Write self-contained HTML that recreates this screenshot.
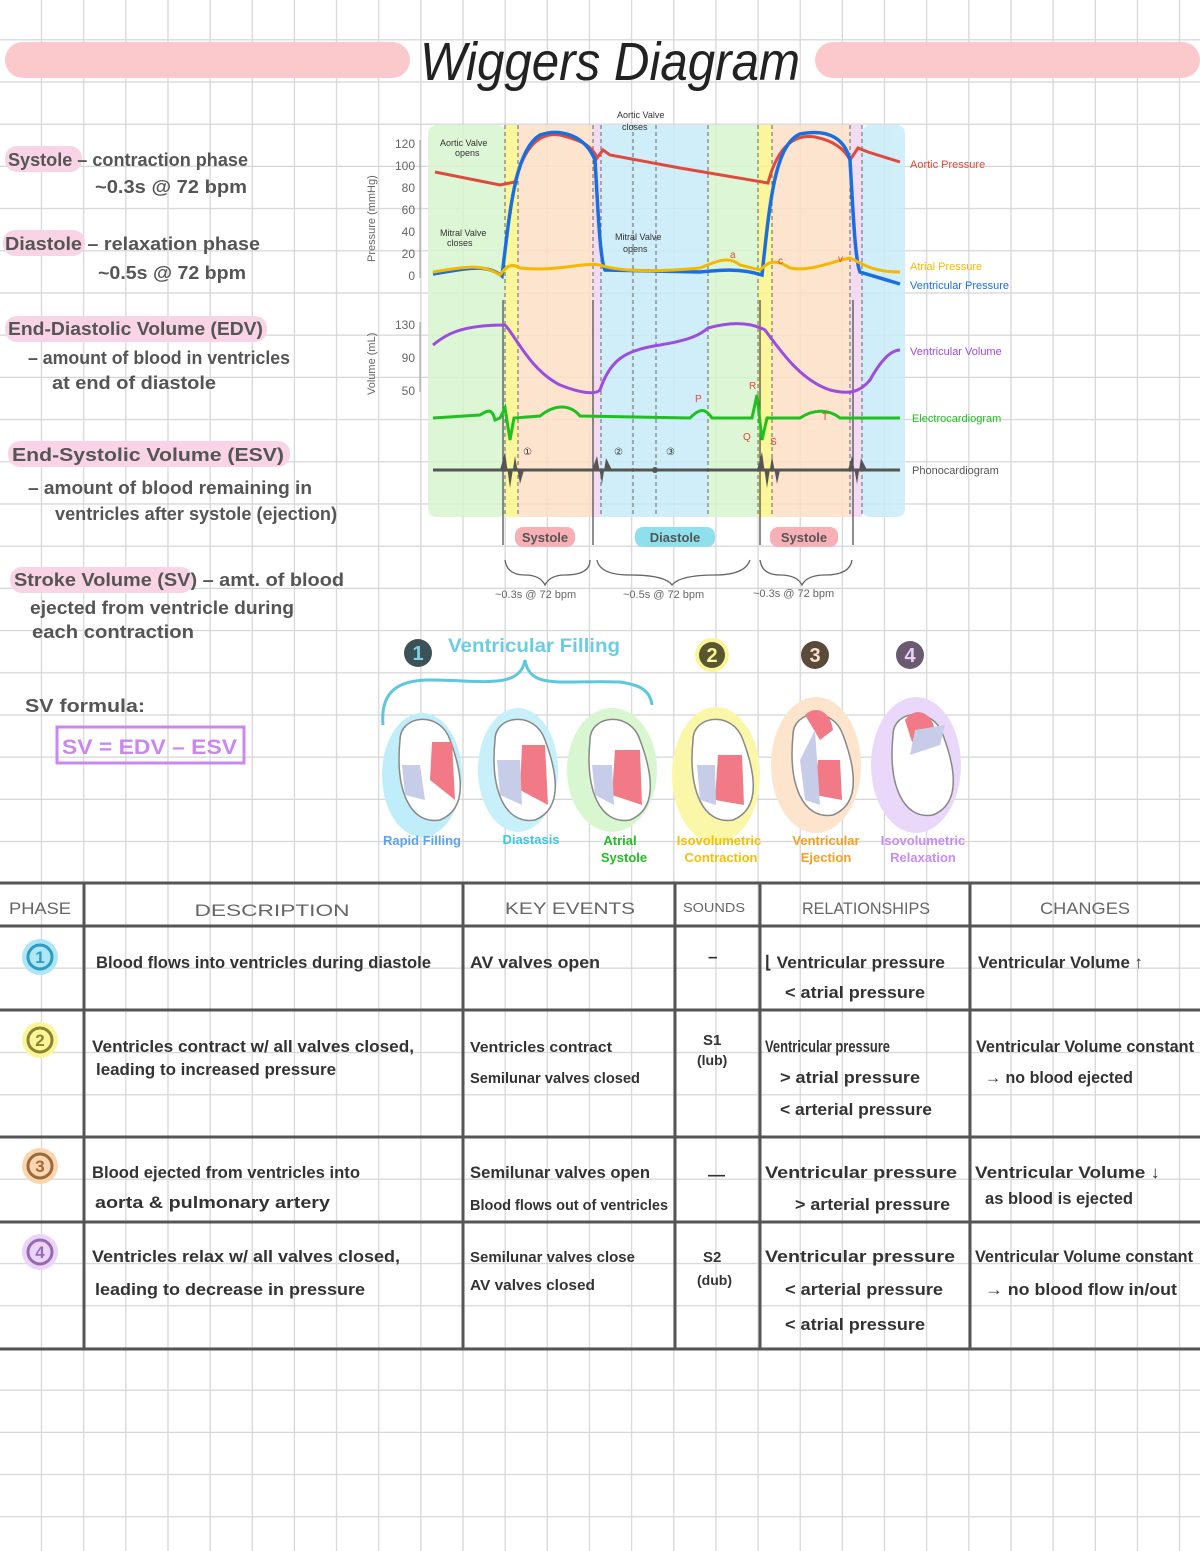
<!DOCTYPE html>
<html><head><meta charset="utf-8"><style>
html,body{margin:0;padding:0;background:#fff;}
svg{display:block}
text{font-family:"Liberation Sans",sans-serif;}
</style></head><body>
<svg width="1200" height="1551" viewBox="0 0 1200 1551" xmlns="http://www.w3.org/2000/svg">
<defs>
<pattern id="grid" x="0" y="-1.8" width="42.15" height="42.2" patternUnits="userSpaceOnUse">
<path d="M42.15 0V42.2M0 42.2H42.15" stroke="#d6d6d8" stroke-width="2.5" fill="none"/>
</pattern>
</defs>
<rect width="1200" height="1551" fill="#fff"/>
<rect width="1200" height="1551" fill="url(#grid)"/>

<!-- title -->
<rect x="5" y="42" width="405" height="36" rx="18" fill="#fbc9cb"/>
<rect x="815" y="42" width="385" height="36" rx="18" fill="#fbc9cb"/>
<text x="610" y="80" text-anchor="middle" font-family="Liberation Serif,serif" font-style="italic" font-size="54" fill="#222" textLength="380" lengthAdjust="spacingAndGlyphs">Wiggers Diagram</text>

<!-- left notes -->
<g fill="#555" font-weight="bold" font-size="18">
<rect x="5" y="146" width="77" height="26" rx="12" fill="#f9d4e6"/>
<text x="8" y="166" textLength="240" lengthAdjust="spacingAndGlyphs">Systole – contraction phase</text>
<text x="95" y="193" textLength="152" lengthAdjust="spacingAndGlyphs">~0.3s @ 72 bpm</text>
<rect x="3" y="230" width="82" height="26" rx="12" fill="#f9d4e6"/>
<text x="5" y="250" textLength="255" lengthAdjust="spacingAndGlyphs">Diastole – relaxation phase</text>
<text x="98" y="279" textLength="148" lengthAdjust="spacingAndGlyphs">~0.5s @ 72 bpm</text>
<rect x="5" y="316" width="262" height="26" rx="12" fill="#f9d4e6"/>
<text x="8" y="335" textLength="255" lengthAdjust="spacingAndGlyphs">End-Diastolic Volume (EDV)</text>
<text x="28" y="364" textLength="262" lengthAdjust="spacingAndGlyphs">– amount of blood in ventricles</text>
<text x="52" y="389" textLength="164" lengthAdjust="spacingAndGlyphs">at end of diastole</text>
<rect x="8" y="441" width="282" height="26" rx="12" fill="#f9d4e6"/>
<text x="12" y="461" textLength="272" lengthAdjust="spacingAndGlyphs">End-Systolic Volume (ESV)</text>
<text x="28" y="494" textLength="284" lengthAdjust="spacingAndGlyphs">– amount of blood remaining in</text>
<text x="55" y="520" textLength="282" lengthAdjust="spacingAndGlyphs">ventricles after systole (ejection)</text>
<rect x="10" y="567" width="183" height="26" rx="12" fill="#f9d4e6"/>
<text x="14" y="586" textLength="330" lengthAdjust="spacingAndGlyphs">Stroke Volume (SV) – amt. of blood</text>
<text x="30" y="614" textLength="264" lengthAdjust="spacingAndGlyphs">ejected from ventricle during</text>
<text x="32" y="638" textLength="162" lengthAdjust="spacingAndGlyphs">each contraction</text>
<text x="25" y="712" textLength="120" lengthAdjust="spacingAndGlyphs">SV formula:</text>
</g>
<rect x="57" y="727" width="187" height="36" fill="none" stroke="#c987f0" stroke-width="3"/>
<text x="62" y="754" font-size="21" font-weight="bold" fill="#c987f0" textLength="175" lengthAdjust="spacingAndGlyphs">SV = EDV – ESV</text>

<!-- chart backgrounds -->
<g opacity="0.85">
<rect x="428" y="125" width="78" height="392" rx="8" fill="#d8f5cf"/>
<rect x="505" y="125" width="13" height="392" fill="#fbf48a"/>
<rect x="518" y="125" width="75" height="392" fill="#fce0c7"/>
<rect x="593" y="125" width="8" height="392" fill="#f2d5f0"/>
<rect x="601" y="125" width="107" height="392" fill="#c8ecf8"/>
<rect x="708" y="125" width="50" height="392" fill="#d8f5cf"/>
<rect x="758" y="125" width="14" height="392" fill="#fbf48a"/>
<rect x="772" y="125" width="78" height="392" fill="#fce0c7"/>
<rect x="850" y="125" width="12" height="392" fill="#f2d5f0"/>
<rect x="862" y="125" width="43" height="392" rx="8" fill="#c8ecf8"/>
</g>
<g stroke="#666" stroke-width="1" stroke-dasharray="4 3">
<line x1="505" y1="125" x2="505" y2="517"/><line x1="518" y1="125" x2="518" y2="517"/>
<line x1="593" y1="125" x2="593" y2="517"/><line x1="601" y1="125" x2="601" y2="517"/>
<line x1="633" y1="125" x2="633" y2="517"/><line x1="656" y1="125" x2="656" y2="517"/>
<line x1="708" y1="125" x2="708" y2="517"/><line x1="758" y1="125" x2="758" y2="517"/>
<line x1="772" y1="125" x2="772" y2="517"/><line x1="850" y1="125" x2="850" y2="517"/>
<line x1="862" y1="125" x2="862" y2="517"/>
</g>
<g stroke="#444" stroke-width="1.2">
<line x1="503" y1="300" x2="503" y2="545"/><line x1="593" y1="300" x2="593" y2="545"/>
<line x1="760" y1="300" x2="760" y2="545"/><line x1="853" y1="300" x2="853" y2="545"/>
</g>
<!-- axes -->
<g font-size="12" fill="#666" text-anchor="end">
<text x="415" y="148">120</text><text x="415" y="170">100</text><text x="415" y="192">80</text>
<text x="415" y="214">60</text><text x="415" y="236">40</text><text x="415" y="258">20</text>
<text x="415" y="280">0</text>
<text x="415" y="329">130</text><text x="415" y="362">90</text><text x="415" y="395">50</text>
</g>
<text transform="translate(375,262) rotate(-90)" font-size="11" fill="#666">Pressure (mmHg)</text>
<text transform="translate(375,395) rotate(-90)" font-size="11" fill="#666">Volume (mL)</text>
<g stroke="#999"><line x1="420" y1="140" x2="420" y2="278"/><line x1="420" y1="322" x2="420" y2="392"/></g>

<!-- curves -->
<path d="M435 172 L500 185 L515 182 C525 145 540 132 560 135 C580 140 592 145 597 158 L603 150 L610 155 L680 168 L768 183 C778 145 795 134 815 137 C835 141 845 150 850 160 L858 148 L868 152 L900 162" fill="none" stroke="#e04a3c" stroke-width="3"/>
<path d="M433 274 C460 270 485 262 502 276 C510 210 515 150 540 135 C560 128 585 135 595 160 C598 210 600 260 605 270 L700 272 C720 270 740 268 762 275 C770 200 775 145 800 134 C830 128 845 140 850 160 C853 210 855 260 860 272 L900 284" fill="none" stroke="#1a6fe0" stroke-width="3.5"/>
<path d="M433 272 C460 268 480 262 500 275 C505 268 510 262 520 268 C560 272 580 262 600 265 C620 272 660 272 700 268 C715 262 728 255 740 265 L760 270 C768 262 775 258 790 268 C810 272 830 262 850 258 C860 262 870 272 900 272" fill="none" stroke="#f5b800" stroke-width="3"/>
<path d="M433 345 C445 335 460 325 505 325 C515 335 530 370 560 385 C580 393 595 395 600 390 C610 360 625 350 660 345 C690 340 700 335 708 328 C730 322 750 322 765 330 C780 350 800 380 830 390 C850 395 860 392 870 380 C880 362 890 350 900 350" fill="none" stroke="#9b4de0" stroke-width="3"/>
<path d="M433 418 L480 415 C488 410 492 408 495 420 L500 418 L505 408 L510 440 L514 418 L540 416 C555 404 570 404 580 416 L690 418 C700 408 705 408 712 418 L752 418 L757 395 L762 440 L767 418 L800 418 C815 408 830 410 840 418 L900 418" fill="none" stroke="#20c020" stroke-width="3"/>
<path d="M433 470 L900 470" stroke="#555" stroke-width="3"/>
<g fill="#555">
<path d="M500 470 L505 452 L510 488 L515 456 L520 484 L524 470Z"/>
<path d="M592 470 L597 456 L602 484 L606 458 L612 470Z"/>
<path d="M757 470 L762 452 L767 488 L772 456 L777 484 L780 470Z"/>
<path d="M848 470 L852 456 L857 484 L861 458 L867 470Z"/>
<circle cx="655" cy="470" r="3"/>
</g>
<g font-size="10" fill="#333">
<text x="523" y="455">①</text><text x="614" y="455">②</text><text x="666" y="455">③</text>
<text x="730" y="258" fill="#e04a3c">a</text><text x="778" y="264" fill="#e04a3c">c</text><text x="838" y="262" fill="#e04a3c">v</text>
<text x="695" y="402" fill="#e04a3c">P</text><text x="749" y="389" fill="#e04a3c">R</text><text x="822" y="420" fill="#e04a3c">T</text>
<text x="743" y="440" fill="#e04a3c">Q</text><text x="770" y="445" fill="#e04a3c">S</text>
<text x="440" y="146" font-size="9">Aortic Valve</text><text x="455" y="156" font-size="9">opens</text>
<text x="617" y="118" font-size="9">Aortic Valve</text><text x="622" y="130" font-size="9">closes</text>
<text x="440" y="236" font-size="9">Mitral Valve</text><text x="447" y="246" font-size="9">closes</text>
<text x="615" y="240" font-size="9">Mitral Valve</text><text x="623" y="252" font-size="9">opens</text>
</g>
<g font-size="11">
<text x="910" y="168" fill="#e04a3c">Aortic Pressure</text>
<text x="910" y="270" fill="#f5b800">Atrial Pressure</text>
<text x="910" y="289" fill="#1a6fe0">Ventricular Pressure</text>
<text x="910" y="355" fill="#9b4de0">Ventricular Volume</text>
<text x="912" y="422" fill="#20c020">Electrocardiogram</text>
<text x="912" y="474" fill="#555">Phonocardiogram</text>
</g>
<!-- phase labels -->
<rect x="515" y="527" width="60" height="20" rx="8" fill="#f7b1b6"/>
<text x="545" y="542" text-anchor="middle" font-size="13" font-weight="bold" fill="#555">Systole</text>
<rect x="635" y="527" width="80" height="20" rx="8" fill="#8fe0ec"/>
<text x="675" y="542" text-anchor="middle" font-size="13" font-weight="bold" fill="#555">Diastole</text>
<rect x="770" y="527" width="68" height="20" rx="8" fill="#f7b1b6"/>
<text x="804" y="542" text-anchor="middle" font-size="13" font-weight="bold" fill="#555">Systole</text>
<g fill="none" stroke="#666" stroke-width="1.3">
<path d="M505 560 Q507 575 525 575 Q540 575 545 585 Q550 575 565 575 Q590 575 590 560"/>
<path d="M597 560 Q600 575 630 575 Q665 575 672 585 Q680 575 715 575 Q745 575 750 560"/>
<path d="M760 560 Q762 575 780 575 Q797 575 802 585 Q807 575 825 575 Q850 575 852 560"/>
</g>
<g font-size="11" fill="#666">
<text x="495" y="598">~0.3s @ 72 bpm</text><text x="623" y="598">~0.5s @ 72 bpm</text><text x="753" y="597">~0.3s @ 72 bpm</text>
</g>

<!-- numbered circles -->
<g font-size="20" font-weight="bold" text-anchor="middle">
<circle cx="418" cy="653" r="14" fill="#3d5257"/><text x="418" y="660" fill="#7fd0e0">1</text>
<circle cx="712" cy="655" r="17" fill="#fbf59a"/><circle cx="712" cy="655" r="13" fill="#5a5630"/><text x="712" y="662" fill="#fbf59a">2</text>
<circle cx="815" cy="655" r="14" fill="#5a4a3a"/><text x="815" y="662" fill="#fce0c7">3</text>
<circle cx="910" cy="655" r="14" fill="#6a5a70"/><text x="910" y="662" fill="#e8d0f5">4</text>
</g>
<text x="448" y="652" font-size="19" font-weight="bold" fill="#6ccde0" textLength="172" lengthAdjust="spacingAndGlyphs">Ventricular Filling</text>
<path d="M383 725 C380 690 400 680 430 680 C480 680 520 690 525 660 C530 690 560 680 620 682 C640 685 650 690 652 705" fill="none" stroke="#5ec6dd" stroke-width="3"/>

<!-- hearts -->
<g>
<ellipse cx="422" cy="775" rx="40" ry="62" fill="#bfeefa"/>
<ellipse cx="518" cy="770" rx="40" ry="62" fill="#c8f0fb"/>
<ellipse cx="612" cy="770" rx="45" ry="62" fill="#d8f6d0"/>
<ellipse cx="716" cy="775" rx="44" ry="68" fill="#fbf7a8"/>
<ellipse cx="816" cy="765" rx="45" ry="68" fill="#fde4cc"/>
<ellipse cx="916" cy="765" rx="45" ry="68" fill="#ead8fb"/>
</g>
<g stroke="#888" stroke-width="1.5">
<path d="M400 740 C400 715 440 710 450 740 C465 780 465 810 440 820 C410 825 395 790 400 740Z" fill="#fff"/>
<path d="M432 742 L452 742 L455 800 L430 780Z" fill="#f27a86" stroke="none"/>
<path d="M402 765 L420 765 L425 800 L405 795Z" fill="#c7cde8" stroke="none"/>
<path d="M495 740 C495 715 535 710 545 740 C560 780 560 810 535 820 C505 825 490 790 495 740Z" fill="#fff"/>
<path d="M522 745 L545 745 L548 805 L520 790Z" fill="#f27a86" stroke="none"/>
<path d="M497 760 L520 760 L522 805 L500 795Z" fill="#c7cde8" stroke="none"/>
<path d="M590 740 C590 715 630 710 640 740 C655 780 655 810 630 820 C600 825 585 790 590 740Z" fill="#fff"/>
<path d="M615 750 L640 750 L642 805 L612 795Z" fill="#f27a86" stroke="none"/>
<path d="M592 765 L612 765 L614 805 L595 795Z" fill="#c7cde8" stroke="none"/>
<path d="M693 740 C693 715 733 710 743 740 C758 780 758 810 733 820 C703 825 688 790 693 740Z" fill="#fff"/>
<path d="M718 755 L742 755 L744 805 L715 800Z" fill="#f27a86" stroke="none"/>
<path d="M697 765 L715 765 L716 805 L700 800Z" fill="#c7cde8" stroke="none"/>
<path d="M793 735 C793 710 833 705 843 735 C858 775 858 805 833 815 C803 820 788 785 793 735Z" fill="#fff"/>
<path d="M805 715 C815 705 830 710 833 730 L820 740 Z" fill="#f27a86" stroke="none"/>
<path d="M818 760 L840 760 L842 800 L815 795Z" fill="#f27a86" stroke="none"/>
<path d="M800 760 L815 730 L820 805 L805 800Z" fill="#c7cde8" stroke="none"/>
<path d="M893 735 C893 710 933 705 943 735 C958 775 958 805 933 815 C903 820 888 785 893 735Z" fill="#fff"/>
<path d="M905 720 C915 705 935 712 935 735 L912 742 Z" fill="#f27a86" stroke="none"/>
<path d="M915 730 L945 725 L940 745 L910 755Z" fill="#c7cde8" stroke="none"/>
</g>
<g font-size="13" font-weight="bold" text-anchor="middle">
<text x="422" y="845" fill="#5aa3f0">Rapid Filling</text>
<text x="531" y="844" fill="#3cc6ea">Diastasis</text>
<text x="620" y="845" fill="#20c020">Atrial</text><text x="624" y="862" fill="#20c020">Systole</text>
<text x="719" y="845" fill="#f5c000">Isovolumetric</text><text x="721" y="862" fill="#f5c000">Contraction</text>
<text x="826" y="845" fill="#f2a020">Ventricular</text><text x="826" y="862" fill="#f2a020">Ejection</text>
<text x="923" y="845" fill="#c88cf5">Isovolumetric</text><text x="923" y="862" fill="#c88cf5">Relaxation</text>
</g>

<!-- table -->
<g stroke="#555" stroke-width="3">
<line x1="0" y1="883" x2="1200" y2="883"/>
<line x1="0" y1="926" x2="1200" y2="926"/>
<line x1="0" y1="1010" x2="1200" y2="1010"/>
<line x1="0" y1="1137" x2="1200" y2="1137"/>
<line x1="0" y1="1222" x2="1200" y2="1222"/>
<line x1="0" y1="1349" x2="1200" y2="1349"/>
<line x1="84" y1="883" x2="84" y2="1349"/>
<line x1="463" y1="883" x2="463" y2="1349"/>
<line x1="675" y1="883" x2="675" y2="1349"/>
<line x1="760" y1="883" x2="760" y2="1349"/>
<line x1="970" y1="883" x2="970" y2="1349"/>
</g>
<g fill="#666" font-size="17" text-anchor="middle">
<text x="40" y="914" textLength="62" lengthAdjust="spacingAndGlyphs">PHASE</text>
<text x="272" y="916" textLength="155" lengthAdjust="spacingAndGlyphs">DESCRIPTION</text>
<text x="570" y="914" textLength="130" lengthAdjust="spacingAndGlyphs">KEY EVENTS</text>
<text x="714" y="912" font-size="13" textLength="62" lengthAdjust="spacingAndGlyphs">SOUNDS</text>
<text x="866" y="914" textLength="128" lengthAdjust="spacingAndGlyphs">RELATIONSHIPS</text>
<text x="1085" y="914" textLength="90" lengthAdjust="spacingAndGlyphs">CHANGES</text>
</g>
<g font-size="17" font-weight="bold" text-anchor="middle">
<circle cx="40" cy="957" r="18" fill="#aee6f5"/><circle cx="40" cy="957" r="12" fill="none" stroke="#2e9bc0" stroke-width="3"/><text x="40" y="963" fill="#2e9bc0">1</text>
<circle cx="40" cy="1040" r="18" fill="#fbf59a"/><circle cx="40" cy="1040" r="12" fill="none" stroke="#8a8430" stroke-width="3"/><text x="40" y="1046" fill="#8a8430">2</text>
<circle cx="40" cy="1166" r="18" fill="#fbd5b0"/><circle cx="40" cy="1166" r="12" fill="none" stroke="#9a6a3a" stroke-width="3"/><text x="40" y="1172" fill="#9a6a3a">3</text>
<circle cx="40" cy="1252" r="18" fill="#ead5f8"/><circle cx="40" cy="1252" r="12" fill="none" stroke="#9a6ab0" stroke-width="3"/><text x="40" y="1258" fill="#9a6ab0">4</text>
</g>
<g fill="#333" font-size="17" font-weight="bold">
<text x="96" y="968" textLength="335" lengthAdjust="spacingAndGlyphs">Blood flows into ventricles during diastole</text>
<text x="470" y="968" textLength="130" lengthAdjust="spacingAndGlyphs">AV valves open</text>
<text x="708" y="962">–</text>
<text x="765" y="968" textLength="180" lengthAdjust="spacingAndGlyphs">⌊ Ventricular pressure</text>
<text x="785" y="998" textLength="140" lengthAdjust="spacingAndGlyphs">&lt; atrial pressure</text>
<text x="978" y="968" textLength="165" lengthAdjust="spacingAndGlyphs">Ventricular Volume ↑</text>

<text x="92" y="1052" textLength="322" lengthAdjust="spacingAndGlyphs">Ventricles contract w/ all valves closed,</text>
<text x="96" y="1075" textLength="240" lengthAdjust="spacingAndGlyphs">leading to increased pressure</text>
<text x="470" y="1052" textLength="142" font-size="15" lengthAdjust="spacingAndGlyphs">Ventricles contract</text>
<text x="470" y="1083" textLength="170" font-size="15" lengthAdjust="spacingAndGlyphs">Semilunar valves closed</text>
<text x="703" y="1045" font-size="15">S1</text><text x="697" y="1065" font-size="14">(lub)</text>
<text x="765" y="1052" textLength="125" lengthAdjust="spacingAndGlyphs">Ventricular pressure</text>
<text x="780" y="1083" textLength="140" lengthAdjust="spacingAndGlyphs">&gt; atrial pressure</text>
<text x="780" y="1115" textLength="152" lengthAdjust="spacingAndGlyphs">&lt; arterial pressure</text>
<text x="976" y="1052" textLength="218" lengthAdjust="spacingAndGlyphs">Ventricular Volume constant</text>
<text x="985" y="1083" textLength="148" lengthAdjust="spacingAndGlyphs">→ no blood ejected</text>

<text x="92" y="1178" textLength="268" lengthAdjust="spacingAndGlyphs">Blood ejected from ventricles into</text>
<text x="95" y="1208" textLength="235" lengthAdjust="spacingAndGlyphs">aorta &amp; pulmonary artery</text>
<text x="470" y="1178" textLength="180" lengthAdjust="spacingAndGlyphs">Semilunar valves open</text>
<text x="470" y="1210" textLength="198" font-size="15" lengthAdjust="spacingAndGlyphs">Blood flows out of ventricles</text>
<text x="708" y="1180">—</text>
<text x="765" y="1178" textLength="192" lengthAdjust="spacingAndGlyphs">Ventricular pressure</text>
<text x="795" y="1210" textLength="155" lengthAdjust="spacingAndGlyphs">&gt; arterial pressure</text>
<text x="975" y="1178" textLength="185" lengthAdjust="spacingAndGlyphs">Ventricular Volume ↓</text>
<text x="985" y="1204" textLength="148" lengthAdjust="spacingAndGlyphs">as blood is ejected</text>

<text x="92" y="1262" textLength="308" lengthAdjust="spacingAndGlyphs">Ventricles relax w/ all valves closed,</text>
<text x="95" y="1295" textLength="270" lengthAdjust="spacingAndGlyphs">leading to decrease in pressure</text>
<text x="470" y="1262" textLength="165" font-size="15" lengthAdjust="spacingAndGlyphs">Semilunar valves close</text>
<text x="470" y="1290" textLength="125" font-size="15" lengthAdjust="spacingAndGlyphs">AV valves closed</text>
<text x="703" y="1262" font-size="15">S2</text><text x="697" y="1285" font-size="14">(dub)</text>
<text x="765" y="1262" textLength="190" lengthAdjust="spacingAndGlyphs">Ventricular pressure</text>
<text x="785" y="1295" textLength="158" lengthAdjust="spacingAndGlyphs">&lt; arterial pressure</text>
<text x="785" y="1330" textLength="140" lengthAdjust="spacingAndGlyphs">&lt; atrial pressure</text>
<text x="975" y="1262" textLength="218" lengthAdjust="spacingAndGlyphs">Ventricular Volume constant</text>
<text x="985" y="1295" textLength="192" lengthAdjust="spacingAndGlyphs">→ no blood flow in/out</text>
</g>
</svg>
</body></html>
